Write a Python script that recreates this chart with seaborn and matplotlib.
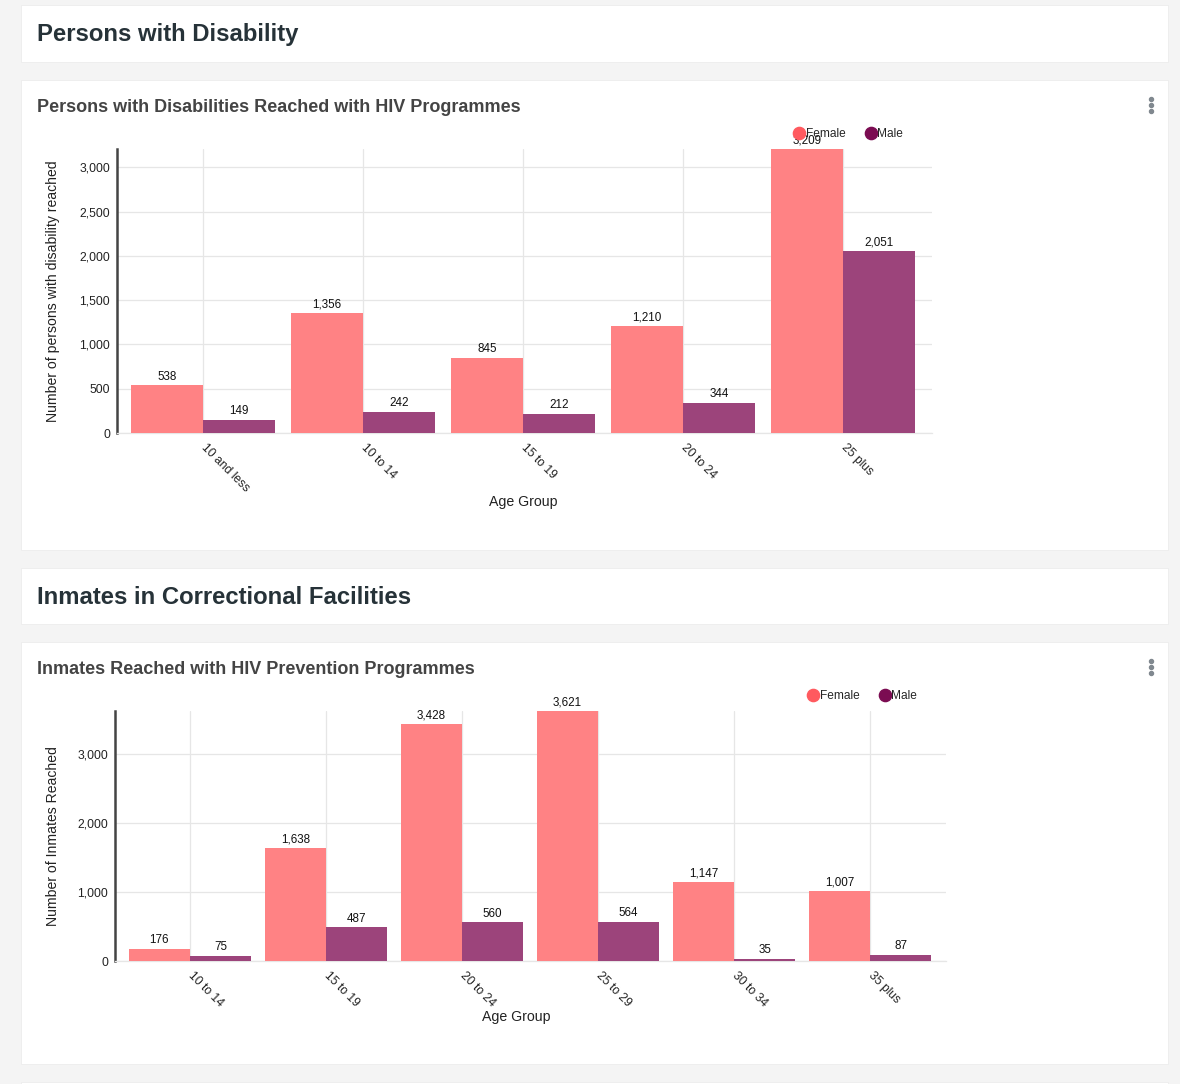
import numpy as np
import pandas as pd
import matplotlib
matplotlib.use('Agg')
import matplotlib.pyplot as plt
import seaborn as sns
from matplotlib.patches import Rectangle
from matplotlib.lines import Line2D
from matplotlib.ticker import StrMethodFormatter, MultipleLocator

# data
disab_groups = ['10 and less', '10 to 14', '15 to 19', '20 to 24', '25 plus']
disab_female = [538, 1356, 845, 1210, 3209]
disab_male = [149, 242, 212, 344, 2051]

inmate_groups = ['10 to 14', '15 to 19', '20 to 24', '25 to 29', '30 to 34', '35 plus']
inmate_female = [176, 1638, 3428, 3621, 1147, 1007]
inmate_male = [75, 487, 560, 564, 35, 87]

W, H = 1180, 1084
bar_colors = {'Female': '#ff8284', 'Male': '#9c447b'}
legend_colors = {'Female': '#ff5a5f', 'Male': '#7b0c52'}

sns.set_theme(style='white')
plt.rcParams['font.family'] = ['Liberation Sans', 'DejaVu Sans']

fig = plt.figure(figsize=(W / 100, H / 100), dpi=100)
fig.patch.set_facecolor('#f4f4f4')


def fx(x):
    return x / W


def fy(y):
    return 1 - y / H


def card(y0, y1):
    fig.patches.append(Rectangle((fx(21), fy(y1)), fx(1168) - fx(21), fy(y0) - fy(y1),
                                 transform=fig.transFigure, facecolor='white',
                                 edgecolor='#ececec', lw=0.6, zorder=-10))


def dots(y):
    for dy in (-6, 0, 6):
        fig.add_artist(Line2D([fx(1151)], [fy(y + dy)], marker='o', markersize=2.9,
                              color='#80888f', transform=fig.transFigure))


def long_df(groups, female, male):
    return pd.DataFrame({
        'Age Group': groups + groups,
        'count': female + male,
        'sex': ['Female'] * len(groups) + ['Male'] * len(groups),
    })


def draw(df, groups, box, xlim, ymax, step, ylabel, ylab_y, xlab_x, xlab_y, leg_xy):
    left, right, top, bottom = box
    ax = fig.add_axes([fx(left), fy(bottom), fx(right) - fx(left), fy(top) - fy(bottom)])
    ax.set_zorder(1)
    sns.barplot(data=df, x='Age Group', y='count', hue='sex', palette=bar_colors,
                order=groups, width=0.9, saturation=1, ax=ax, legend=False, zorder=3,
                linewidth=0)
    for cont in ax.containers:
        ax.bar_label(cont, fmt='{:,.0f}', padding=2, fontsize=8.4, color='#111')
    ax.set_xlim(*xlim)
    ax.set_ylim(0, ymax)
    ax.yaxis.set_major_locator(MultipleLocator(step))
    ax.yaxis.set_major_formatter(StrMethodFormatter('{x:,.0f}'))
    ax.grid(True, color='#e6e6e6', lw=0.9, zorder=0)
    ax.set_axisbelow(True)
    for s in ('top', 'right'):
        ax.spines[s].set_visible(False)
    ax.spines['left'].set_color('#444444')
    ax.spines['left'].set_linewidth(1.8)
    ax.spines['bottom'].set_color('#e6e6e6')
    ax.spines['bottom'].set_linewidth(0.9)
    ax.tick_params(axis='y', length=0, pad=5, labelsize=8.7, labelcolor='#222')
    ax.tick_params(axis='x', length=0, pad=9, labelsize=8.7, labelcolor='#222')
    for lab in ax.get_xticklabels():
        lab.set_rotation(-45)
        lab.set_rotation_mode('anchor')
        lab.set_ha('left')
        lab.set_va('center')
    ax.set_xlabel('')
    ax.set_ylabel('')
    fig.text(fx(53), fy(ylab_y), ylabel, rotation=90, ha='center', va='center',
             fontsize=10.1, color='#222')
    fig.text(fx(xlab_x), fy(xlab_y), 'Age Group', ha='center', va='center',
             fontsize=10.2, color='#222')
    handles = [Line2D([], [], marker='o', ls='', markersize=8.8, color=legend_colors[k],
                      label=k) for k in ('Female', 'Male')]
    ax.legend(handles=handles, ncol=2, frameon=False, loc='center right',
              bbox_to_anchor=(fx(leg_xy[0]), fy(leg_xy[1])), bbox_transform=fig.transFigure,
              fontsize=8.6, handletextpad=0.05, columnspacing=1.6, borderpad=0,
              handlelength=1.0)
    return ax


# section headers and cards
card(5, 62)
card(80, 550)
card(568, 624)
card(642, 1064)
card(1082, 1100)
fig.text(fx(37), fy(35), 'Persons with Disability', fontsize=17.2, fontweight='bold',
         color='#263238', va='center')
fig.text(fx(37), fy(597), 'Inmates in Correctional Facilities', fontsize=17.2,
         fontweight='bold', color='#263238', va='center')
fig.text(fx(37), fy(108), 'Persons with Disabilities Reached with HIV Programmes',
         fontsize=13.0, fontweight='bold', color='#444444', va='center')
fig.text(fx(37), fy(670), 'Inmates Reached with HIV Prevention Programmes',
         fontsize=13.0, fontweight='bold', color='#444444', va='center')
dots(105)
dots(667)

draw(long_df(disab_groups, disab_female, disab_male), disab_groups,
     (117, 932, 149, 433), (-0.5375, 4.556), max(disab_female), 500,
     'Number of persons with disability reached', 291, 523, 502, (909, 134))

draw(long_df(inmate_groups, inmate_female, inmate_male), inmate_groups,
     (115, 946, 711, 961), (-0.551, 5.559), max(inmate_female), 1000,
     'Number of Inmates Reached', 836, 516, 1017, (923, 696))

fig.savefig('out.png', dpi=100, facecolor=fig.get_facecolor())
